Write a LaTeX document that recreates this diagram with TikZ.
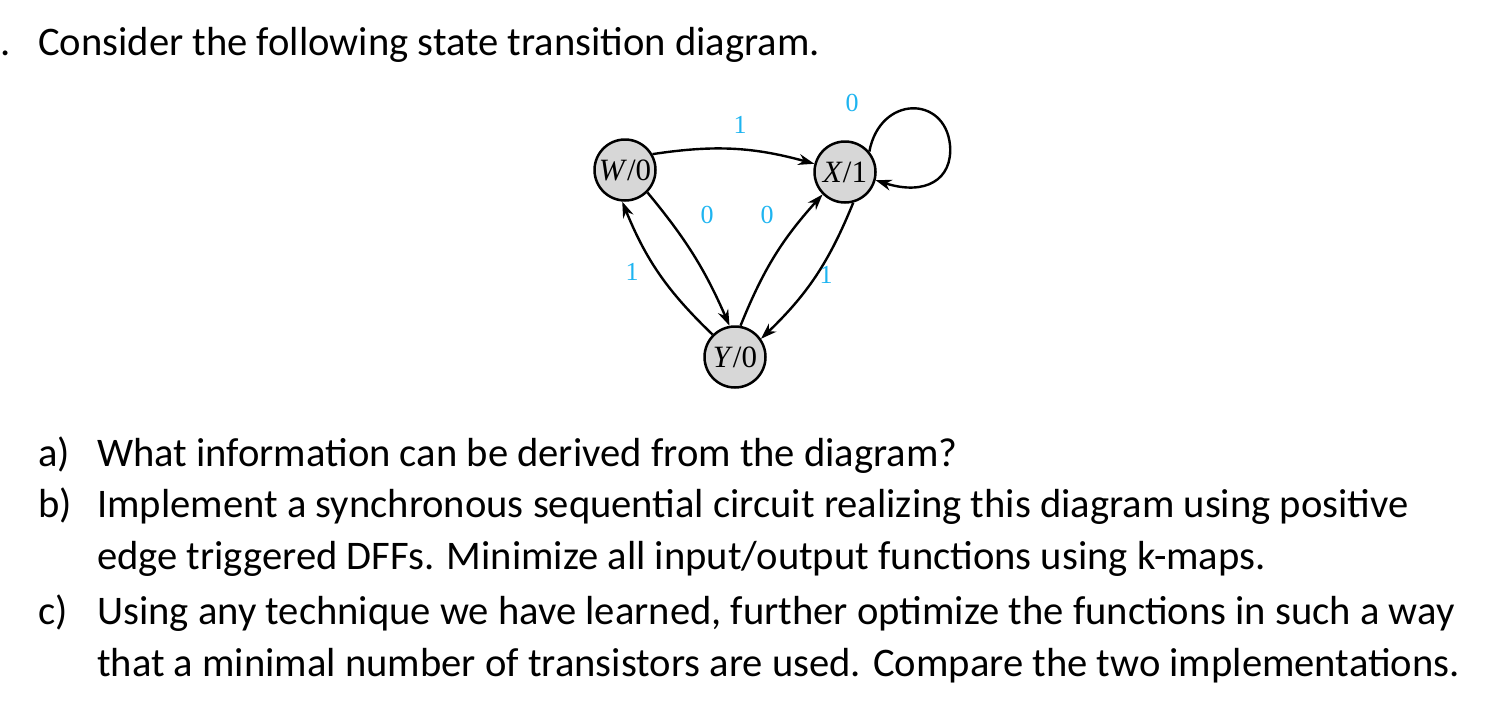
\documentclass[tikz,border=0pt]{standalone}
\usepackage{fontspec}
\setmainfont{Carlito}
\newfontfamily\serf{Liberation Serif}
\usetikzlibrary{arrows.meta}
\definecolor{lbl}{RGB}{30,180,240}
\definecolor{sfill}{RGB}{215,215,215}
\begin{document}
\begin{tikzpicture}[x=1pt,y=-1pt,
  st/.style={circle,draw,line width=2.5pt,fill=sfill,minimum size=61pt,inner sep=0pt,font=\serf\fontsize{31}{31}\selectfont},
  tr/.style={line width=2.4pt,-{Stealth[length=16pt,width=11pt]}},
  lb/.style={text=lbl,font=\serf\fontsize{26}{26}\selectfont},
  txt/.style={anchor=base west,font=\fontsize{40.6}{48}\selectfont,inner sep=0pt}]
\useasboundingbox (0,0) rectangle (1496,704);
\node[txt] (dot) at (0,55) {.};
\node[txt] (title) at (38,55) {Consider the following state transition diagram.};
\node[st] (W) at (625,170) {\textit{W}/0};
\node[st] (X) at (845,172) {\textit{X}/1};
\node[st] (Y) at (735,357) {\textit{Y}/0};
\draw[tr] (W.30) to[bend left=12] (X.165);
\draw[tr] (W.-45) to[bend left=8] (Y.100);
\draw[tr] (Y.135) to[bend left=12] (W.-95);
\draw[tr] (Y.80) to[bend left=10] (X.-135);
\draw[tr] (X.-75) to[bend left=12] (Y.35);
\draw[tr] (X.40) .. controls (880,95) and (945,95) .. (950,145) .. controls (953,180) and (925,196) .. (X.-15);
\node[lb] (l1) at (740,125) {1};
\node[lb] (l2) at (852,103) {0};
\node[lb] (l3) at (707,215) {0};
\node[lb] (l4) at (767,215) {0};
\node[lb] (l5) at (632,272) {1};
\node[lb] (l6) at (826,275) {1};
\node[txt] (a) at (38,466) {a)};
\node[txt] (at) at (97,466) {What information can be derived from the diagram?};
\node[txt] (b) at (38,517) {b)};
\node[txt] (bt) at (97,517) {Implement a synchronous sequential circuit realizing this diagram using positive};
\node[txt] (bt2) at (97,569) {edge triggered DFFs. Minimize all input/output functions using k-maps.};
\node[txt] (c) at (38,624) {c)};
\node[txt] (ct) at (97,624) {Using any technique we have learned, further optimize the functions in such a way};
\node[txt] (ct2) at (97,676) {that a minimal number of transistors are used. Compare the two implementations.};
\end{tikzpicture}
\end{document}
